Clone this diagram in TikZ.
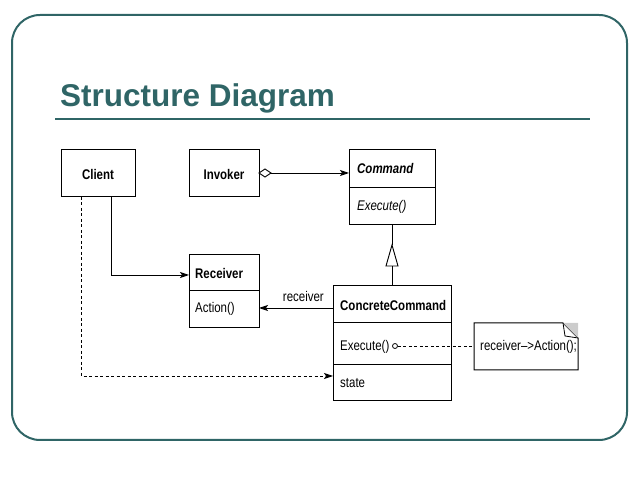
\documentclass[tikz,border=0pt]{standalone}
\usepackage{fontspec}
\usepackage{graphicx}
\setmainfont{Liberation Sans}
\usetikzlibrary{arrows.meta}
\definecolor{teal1}{HTML}{2F6566}
\newcommand{\nrw}[1]{\scalebox{0.82}[1]{#1}}
\begin{document}
\begin{tikzpicture}[x=1pt,y=-1pt,
    box/.style={draw, line width=1pt},
    lbl/.style={font=\fontsize{14}{16}\selectfont, anchor=west, inner sep=0pt},
    arr/.style={-{Stealth[length=9pt,width=6pt,inset=2pt]}, line width=0.9pt},
    dashline/.style={dash pattern=on 3pt off 2.5pt, line width=0.9pt}
]
\useasboundingbox (0,0) rectangle (638,478);
\draw[teal1, line width=2pt, rounded corners=28pt] (12,15) rectangle (627,440);
\node[teal1, anchor=west, font=\fontsize{31.5}{34}\selectfont\bfseries, inner sep=0pt] (title) at (60,98) {Structure Diagram};
\draw[teal1, line width=2pt] (55,119) -- (590,119);

% class boxes
\draw[box] (61,150) rectangle (135,197);
\node[font=\fontsize{14}{16}\selectfont\bfseries] (client) at (98,174) {\nrw{Client}};
\coordinate (clientA) at (111,197);
\coordinate (clientB) at (81,197);

\draw[box] (189,150) rectangle (259,197);
\node[font=\fontsize{14}{16}\selectfont\bfseries] (invoker) at (224,174) {\nrw{Invoker}};
\coordinate (invE) at (259,173);

\draw[box] (349,150) rectangle (435,225);
\draw[box] (349,188) -- (435,188);
\node[lbl, font=\fontsize{14}{16}\selectfont\bfseries\itshape] (command) at (357,169) {\nrw{Command}};
\node[lbl, font=\fontsize{14}{16}\selectfont\itshape] (cmdexec) at (357,207) {\nrw{Execute()}};
\coordinate (cmdW) at (349,173);
\coordinate (cmdS) at (392,225);

\draw[box] (189,255) rectangle (259,328);
\draw[box] (189,291) -- (259,291);
\node[lbl, font=\fontsize{14}{16}\selectfont\bfseries] (receiver) at (195,273) {\nrw{Receiver}};
\node[lbl] (action) at (195,309) {\nrw{Action()}};
\coordinate (recW) at (189,275);
\coordinate (recE) at (259,308);

\draw[box] (333,286) rectangle (451,401);
\draw[box] (333,323) -- (451,323);
\draw[box] (333,365) -- (451,365);
\node[lbl, font=\fontsize{14}{16}\selectfont\bfseries] (cc) at (340,305) {\nrw{ConcreteCommand}};
\node[lbl] (ccexec) at (340,347) {\nrw{Execute()}};
\node[lbl] (state) at (340,383) {\nrw{state}};
\coordinate (ccW) at (333,308);
\coordinate (ccN) at (392,286);
\coordinate (ccS) at (333,376);
\coordinate (tri) at (392,245);
\node[draw, circle, inner sep=0pt, minimum size=5pt, line width=0.8pt] (dot) at (395,346) {};

% note
\draw[box] (474,323) -- (563,323) -- (578,338) -- (578,370) -- (474,370) -- cycle;
\fill[gray!40] (563,323) -- (578,323) -- (578,338) -- cycle;
\draw[line width=0.8pt] (563,323) -- (565,336) -- (578,338);
\node[lbl] (note) at (480,347) {\nrw{receiver–>Action();}};
\coordinate (noteW) at (474,346);

% connectors
\draw[line width=0.9pt] (invE) -- ++(12,0) coordinate (dE);
\draw[arr] (dE) -- (cmdW);
\draw[fill=white, line width=0.9pt] (invE) -- ++(6,-4) -- ++(6,4) -- ++(-6,4) -- cycle;
\draw[arr] (clientA) |- (recW);
\draw[arr] (ccW) -- node[above, font=\fontsize{14}{16}\selectfont, pos=0.4, yshift=3pt] {\nrw{receiver}} (recE);
\draw[line width=0.9pt] (ccN) -- (392,266);
\draw[line width=0.9pt, fill=white] (386,266) -- (398,266) -- (tri) -- cycle;
\draw[line width=0.9pt] (tri) -- (cmdS);
\draw[dashline, -{Stealth[length=9pt,width=6pt,inset=2pt]}] (clientB) |- (ccS);
\draw[dashline] (dot) -- (noteW);
\end{tikzpicture}
\end{document}
